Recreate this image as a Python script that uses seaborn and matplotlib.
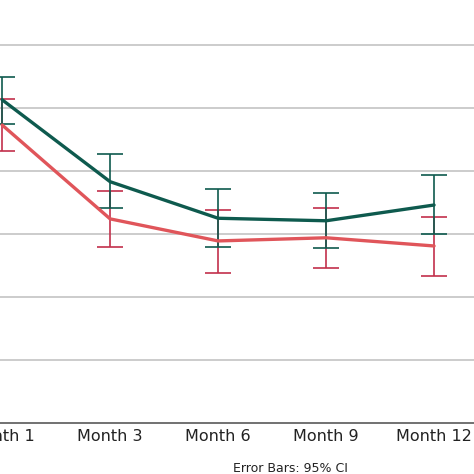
import matplotlib
matplotlib.use("Agg")
import matplotlib.pyplot as plt
import seaborn as sns
import pandas as pd
import numpy as np

months = ["Month 1", "Month 3", "Month 6", "Month 9", "Month 12"]
teal_mean = [5.13, 3.83, 3.25, 3.21, 3.46]
teal_lo = [4.75, 3.41, 2.79, 2.78, 3.00]
teal_hi = [5.49, 4.27, 3.71, 3.65, 3.94]
red_mean = [4.73, 3.24, 2.89, 2.94, 2.81]
red_lo = [4.32, 2.79, 2.38, 2.46, 2.33]
red_hi = [5.14, 3.68, 3.38, 3.41, 3.27]

sns.set_style("white")
fig = plt.figure(figsize=(4.74, 4.74), dpi=100)
ax = fig.add_axes([0, 51/474, 1, 423/474])
x = np.arange(len(months))
df = pd.DataFrame({"x": np.concatenate([x, x]),
                   "y": teal_mean + red_mean,
                   "g": ["A"] * 5 + ["B"] * 5})
teal, red, redbar = "#0e5a4e", "#e0555a", "#c2304c"

for m, lo, hi, c in [(red_mean, red_lo, red_hi, redbar), (teal_mean, teal_lo, teal_hi, teal)]:
    m = np.array(m)
    ax.errorbar(x, m, yerr=[m - np.array(lo), np.array(hi) - m], fmt="none",
                ecolor=c, elinewidth=1.2, capsize=9.5, capthick=1.2, zorder=3)
sns.lineplot(data=df, x="x", y="y", hue="g", palette={"A": teal, "B": red},
             linewidth=2.4, legend=False, ax=ax, zorder=4)

ax.set_xlim(-0.02, 4.37)
ax.set_ylim(0, 423/63)
ax.set_yticks([1, 2, 3, 4, 5, 6])
ax.set_yticklabels([])
ax.tick_params(axis="y", length=0)
ax.yaxis.grid(True, color="#c8c8c8", linewidth=1.3)
ax.set_axisbelow(True)
ax.set_xticks(x)
ax.set_xticklabels(months, fontsize=11.5, color="#222222")
ax.tick_params(axis="x", length=0, pad=4)
ax.set_xlabel("")
ax.set_ylabel("")
for s in ["top", "right", "left"]:
    ax.spines[s].set_visible(False)
ax.spines["bottom"].set_color("#666666")
ax.spines["bottom"].set_linewidth(1.3)
fig.text(290/474, 1 - 468/474, "Error Bars: 95% CI", ha="center", va="center", fontsize=9, color="#222222")
fig.savefig("out.png", dpi=100)
